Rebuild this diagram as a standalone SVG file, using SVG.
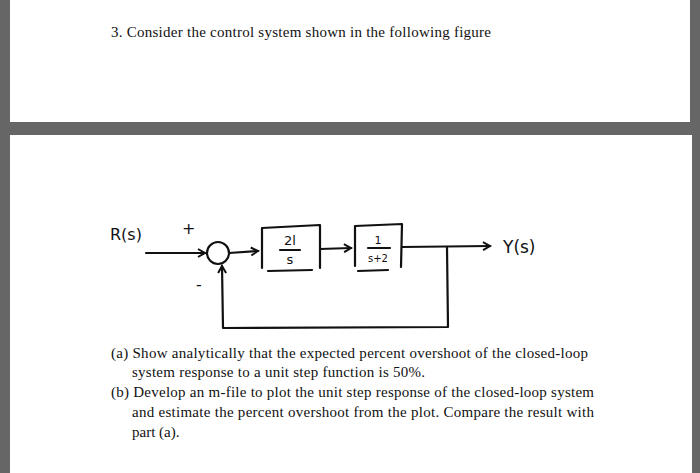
<svg xmlns="http://www.w3.org/2000/svg" width="700" height="473" viewBox="0 0 700 473">
<style>
.t{font-family:"Liberation Serif",serif;font-size:15px;fill:#111}
.h{font-family:"Comic Sans MS","DejaVu Sans",sans-serif;fill:#111}
.w{fill:none;stroke:#111;stroke-width:2.2;stroke-linecap:round;stroke-linejoin:round}
</style>
<defs><marker id="a" markerWidth="10" markerHeight="10" refX="8" refY="5" orient="auto" markerUnits="userSpaceOnUse"><path d="M1,1 L8,5 L1,9" fill="none" stroke="#111" stroke-width="2"/></marker></defs>
<rect width="700" height="473" fill="#666"/>
<rect x="10" y="0" width="680" height="122" fill="#fff"/>
<rect x="10" y="135" width="682" height="338" fill="#fff"/>
<text class="t" x="111" y="37" textLength="380">3.  Consider the control system shown in the following figure</text>
<g id="sum"><circle class="w" cx="218" cy="253" r="11"/></g>
<g id="g1"><path class="w" d="M262,228 L320,225 L320,268 M262,228 L262,268 M268,271 L312,270"/><text class="h" x="290" y="245" font-size="13" text-anchor="middle">2l</text><line class="w" x1="280" y1="250" x2="300" y2="250"/><text class="h" x="290" y="264" font-size="13" text-anchor="middle">s</text></g>
<g id="g2"><path class="w" d="M355,226 L402,224 L401,267 M355,226 L355,266 M358,271 L388,270"/><text class="h" x="378" y="244" font-size="11" text-anchor="middle">1</text><line class="w" x1="368" y1="248" x2="390" y2="248"/><text class="h" x="378" y="262" font-size="10" text-anchor="middle">s+2</text></g>
<g id="labels">
<text class="h" x="110" y="240" font-size="16">R(s)</text>
<text class="h" x="182" y="234" font-size="16">+</text>
<text class="h" x="196" y="290" font-size="16">-</text>
<text class="h" x="503" y="253" font-size="17">Y(s)</text>
</g>
<g id="connectors">
<path class="w" d="M146,253 L205,253" marker-end="url(#a)"/>
<path class="w" d="M229,253 L258,251" marker-end="url(#a)"/>
<path class="w" d="M320,249 L351,248" marker-end="url(#a)"/>
<path class="w" d="M402,247 L490,246" marker-end="url(#a)"/>
<path class="w" d="M447,247 L448,327 L223,328 L222,266" marker-end="url(#a)"/>
</g>
<g class="t">
<text x="111" y="358" textLength="477">(a) Show analytically that the expected percent overshoot of the closed-loop</text>
<text x="132" y="377" textLength="293">system response to a unit step function is 50%.</text>
<text x="111" y="397" textLength="483">(b) Develop an m-file to plot the unit step response of the closed-loop system</text>
<text x="132" y="417" textLength="462">and estimate the percent overshoot from the plot. Compare the result with</text>
<text x="132" y="437">part (a).</text>
</g>
</svg>
